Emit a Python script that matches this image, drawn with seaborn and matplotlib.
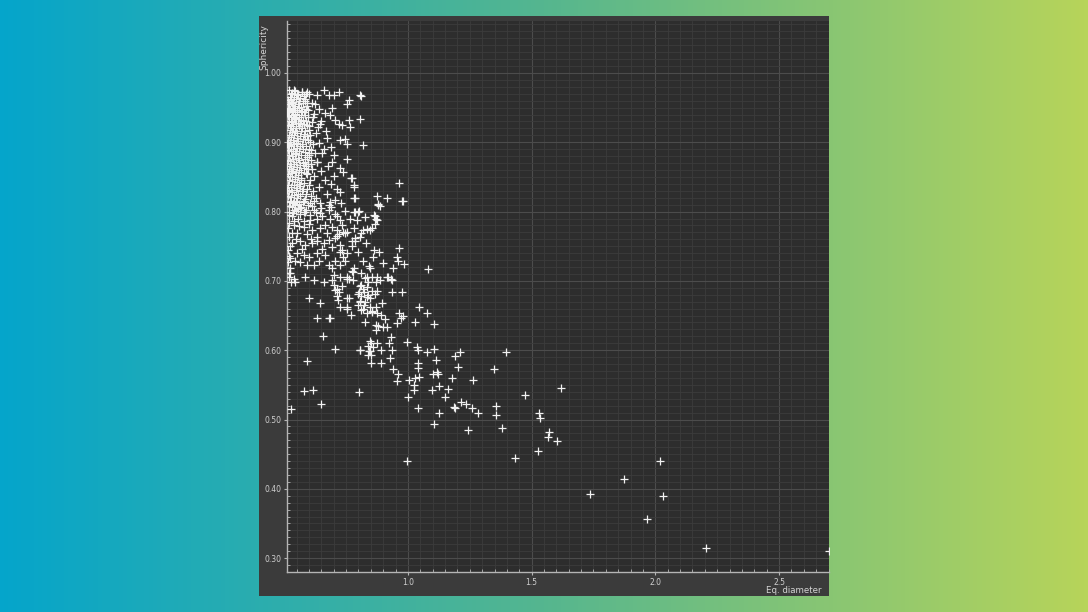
import numpy as np
import pandas as pd
import seaborn as sns
import matplotlib.pyplot as plt
from matplotlib.colors import LinearSegmentedColormap
from matplotlib.patches import Rectangle
from matplotlib.ticker import MultipleLocator, FormatStrFormatter

# %% data (Eq. diameter, Sphericity)
core = [
    (0.518, 0.975), (0.531, 0.971), (0.545, 0.974), (0.556, 0.969), (0.572, 0.973), (0.588, 0.970),
    (0.522, 0.966), (0.527, 0.970), (0.539, 0.965), (0.551, 0.968), (0.563, 0.964), (0.579, 0.967), (0.601, 0.969),
    (0.516, 0.961), (0.529, 0.963), (0.536, 0.958), (0.548, 0.962), (0.561, 0.960), (0.574, 0.957),
    (0.519, 0.955), (0.533, 0.957), (0.542, 0.953), (0.555, 0.955), (0.567, 0.951), (0.583, 0.959), (0.612, 0.956),
    (0.515, 0.950), (0.524, 0.948), (0.538, 0.950), (0.550, 0.946), (0.559, 0.949), (0.571, 0.945), (0.590, 0.952),
    (0.521, 0.943), (0.530, 0.945), (0.544, 0.941), (0.553, 0.943), (0.566, 0.940), (0.578, 0.944), (0.596, 0.946),
    (0.517, 0.938), (0.527, 0.936), (0.535, 0.939), (0.547, 0.934), (0.561, 0.937), (0.574, 0.932), (0.585, 0.939), (0.620, 0.941),
    (0.520, 0.931), (0.532, 0.929), (0.541, 0.933), (0.556, 0.928), (0.568, 0.930), (0.581, 0.926),
    (0.516, 0.925), (0.526, 0.923), (0.537, 0.926), (0.549, 0.921), (0.558, 0.924), (0.572, 0.920), (0.592, 0.925), (0.611, 0.929),
    (0.523, 0.918), (0.531, 0.915), (0.545, 0.917), (0.553, 0.913), (0.566, 0.916), (0.579, 0.912), (0.598, 0.918),
    (0.518, 0.911), (0.528, 0.908), (0.540, 0.910), (0.551, 0.906), (0.562, 0.909), (0.585, 0.905), (0.603, 0.911),
    (0.515, 0.904), (0.525, 0.901), (0.534, 0.903), (0.546, 0.899), (0.557, 0.902), (0.570, 0.898), (0.594, 0.903),
    (0.521, 0.896), (0.529, 0.894), (0.539, 0.897), (0.552, 0.892), (0.565, 0.895), (0.577, 0.891), (0.616, 0.897),
    (0.517, 0.889), (0.526, 0.887), (0.536, 0.890), (0.548, 0.885), (0.560, 0.888), (0.582, 0.886), (0.601, 0.890),
    (0.520, 0.882), (0.531, 0.880), (0.543, 0.883), (0.555, 0.878), (0.568, 0.881), (0.590, 0.879), (0.625, 0.884),
    (0.516, 0.875), (0.524, 0.873), (0.535, 0.876), (0.547, 0.871), (0.558, 0.874), (0.574, 0.870), (0.606, 0.875),
    (0.522, 0.868), (0.529, 0.866), (0.540, 0.869), (0.551, 0.864), (0.563, 0.867), (0.579, 0.863), (0.597, 0.868), (0.634, 0.871),
    (0.518, 0.861), (0.527, 0.859), (0.537, 0.862), (0.549, 0.857), (0.561, 0.860), (0.586, 0.856), (0.612, 0.862),
    (0.515, 0.854), (0.525, 0.852), (0.533, 0.855), (0.545, 0.850), (0.556, 0.853), (0.569, 0.849), (0.593, 0.854), (0.622, 0.851),
    (0.521, 0.846), (0.530, 0.844), (0.542, 0.847), (0.553, 0.842), (0.566, 0.845), (0.580, 0.841), (0.604, 0.846),
    (0.517, 0.839), (0.526, 0.836), (0.538, 0.838), (0.550, 0.834), (0.562, 0.837), (0.575, 0.833), (0.598, 0.838), (0.641, 0.836),
    (0.520, 0.830), (0.533, 0.828), (0.546, 0.831), (0.557, 0.826), (0.571, 0.829), (0.588, 0.825), (0.615, 0.830),
    (0.516, 0.823), (0.528, 0.821), (0.540, 0.824), (0.552, 0.819), (0.565, 0.822), (0.583, 0.818), (0.607, 0.823), (0.630, 0.820),
    (0.523, 0.815), (0.536, 0.813), (0.548, 0.816), (0.560, 0.811), (0.576, 0.814), (0.596, 0.810), (0.621, 0.816),
    (0.518, 0.808), (0.530, 0.806), (0.543, 0.809), (0.555, 0.804), (0.569, 0.807), (0.589, 0.803), (0.611, 0.808), (0.648, 0.805),
    (0.521, 0.800), (0.534, 0.798), (0.549, 0.801), (0.563, 0.796), (0.580, 0.799), (0.602, 0.795), (0.627, 0.800),
    (0.528, 0.958), (0.544, 0.935), (0.512, 0.944), (0.563, 0.928), (0.534, 0.921), (0.575, 0.905),
    (0.513, 0.897), (0.542, 0.884), (0.587, 0.866), (0.531, 0.858), (0.513, 0.866), (0.559, 0.840),
    (0.513, 0.831), (0.591, 0.833), (0.539, 0.816), (0.568, 0.857), (0.582, 0.876), (0.537, 0.946),
    (0.584, 0.962), (0.593, 0.957), (0.586, 0.948), (0.597, 0.936), (0.589, 0.931), (0.601, 0.924),
    (0.584, 0.917), (0.593, 0.909), (0.605, 0.901), (0.589, 0.895), (0.598, 0.884), (0.585, 0.872),
    (0.596, 0.861), (0.609, 0.868), (0.601, 0.881), (0.608, 0.889),
]

fringe = [
    (0.538, 0.975), (0.571, 0.973), (0.591, 0.972), (0.632, 0.968), (0.659, 0.975), (0.679, 0.968),
    (0.699, 0.968), (0.723, 0.973), (0.806, 0.968), (0.809, 0.967), (0.760, 0.961), (0.755, 0.955),
    (0.692, 0.949), (0.665, 0.942), (0.685, 0.939), (0.706, 0.932), (0.720, 0.927), (0.733, 0.925),
    (0.760, 0.932), (0.766, 0.922), (0.806, 0.933), (0.645, 0.927), (0.638, 0.922), (0.667, 0.917),
    (0.726, 0.903), (0.746, 0.905), (0.753, 0.898), (0.818, 0.896), (0.659, 0.891), (0.652, 0.884),
    (0.699, 0.881), (0.753, 0.876), (0.692, 0.871), (0.726, 0.863), (0.739, 0.857), (0.773, 0.848),
    (0.769, 0.848), (0.782, 0.838), (0.780, 0.836), (0.713, 0.833), (0.726, 0.828), (0.786, 0.820),
    (0.782, 0.820), (0.964, 0.841), (0.977, 0.816), (0.876, 0.822), (0.917, 0.820), (0.878, 0.811),
    (0.887, 0.808), (0.625, 0.955), (0.640, 0.948), (0.618, 0.936), (0.650, 0.931), (0.628, 0.913),
    (0.672, 0.906), (0.640, 0.899), (0.688, 0.893), (0.631, 0.872), (0.676, 0.866), (0.650, 0.858),
    (0.700, 0.851), (0.664, 0.845), (0.690, 0.840), (0.672, 0.826), (0.705, 0.817), (0.689, 0.807),
    (0.730, 0.812),
]

band = [
    (0.524, 0.814), (0.551, 0.814), (0.578, 0.815), (0.605, 0.813), (0.645, 0.812), (0.679, 0.810),
    (0.685, 0.814), (0.880, 0.810), (0.981, 0.816),
    (0.538, 0.802), (0.565, 0.805), (0.585, 0.800), (0.619, 0.802), (0.645, 0.798), (0.679, 0.802),
    (0.706, 0.797), (0.746, 0.801), (0.780, 0.800), (0.800, 0.800), (0.786, 0.800), (0.804, 0.801),
    (0.530, 0.793), (0.557, 0.790), (0.578, 0.786), (0.605, 0.788), (0.632, 0.790), (0.652, 0.793),
    (0.685, 0.790), (0.712, 0.794), (0.726, 0.788), (0.766, 0.790), (0.793, 0.788), (0.867, 0.794),
    (0.873, 0.788), (0.827, 0.792), (0.861, 0.795), (0.871, 0.789),
    (0.538, 0.781), (0.578, 0.778), (0.612, 0.773), (0.645, 0.776), (0.665, 0.781), (0.692, 0.778),
    (0.712, 0.773), (0.733, 0.781), (0.753, 0.771), (0.780, 0.776), (0.819, 0.773), (0.847, 0.773),
    (0.867, 0.782), (0.856, 0.777), (0.833, 0.775), (0.812, 0.769),
    (0.530, 0.769), (0.551, 0.769), (0.591, 0.767), (0.632, 0.764), (0.672, 0.769), (0.679, 0.759),
    (0.706, 0.762), (0.720, 0.767), (0.746, 0.769), (0.786, 0.762), (0.806, 0.764), (0.739, 0.770),
    (0.713, 0.765),
    (0.530, 0.754), (0.565, 0.757), (0.585, 0.752), (0.612, 0.754), (0.632, 0.757), (0.659, 0.754),
    (0.692, 0.749), (0.726, 0.752), (0.733, 0.744), (0.773, 0.757), (0.753, 0.740), (0.800, 0.742),
    (0.786, 0.757), (0.773, 0.751), (0.831, 0.754), (0.965, 0.748), (0.864, 0.745), (0.884, 0.741),
    (0.551, 0.740), (0.578, 0.737), (0.599, 0.735), (0.632, 0.740), (0.665, 0.737), (0.706, 0.728),
    (0.726, 0.723), (0.679, 0.723), (0.619, 0.723), (0.591, 0.723), (0.544, 0.728), (0.524, 0.733),
    (0.857, 0.734), (0.819, 0.728), (0.844, 0.721), (0.898, 0.726), (0.941, 0.718), (0.954, 0.734),
    (0.961, 0.729), (0.984, 0.725), (1.082, 0.717), (0.726, 0.742), (0.739, 0.734), (0.746, 0.728),
    (0.518, 0.795), (0.521, 0.784), (0.516, 0.776), (0.519, 0.763), (0.522, 0.751), (0.517, 0.745),
    (0.520, 0.736), (0.516, 0.727), (0.523, 0.719), (0.518, 0.712), (0.521, 0.705), (0.526, 0.698),
    (0.524, 0.711), (0.538, 0.703), (0.544, 0.699), (0.585, 0.706), (0.619, 0.701), (0.659, 0.699),
    (0.692, 0.718), (0.699, 0.708), (0.692, 0.701), (0.726, 0.706), (0.760, 0.703), (0.773, 0.715),
    (0.812, 0.712), (0.833, 0.706), (0.847, 0.718), (0.873, 0.706), (0.887, 0.701), (0.777, 0.713),
    (0.755, 0.703), (0.825, 0.704), (0.853, 0.706), (0.869, 0.699), (0.914, 0.705), (0.931, 0.703),
    (0.780, 0.718), (0.753, 0.706), (0.777, 0.702), (0.840, 0.699), (0.921, 0.706), (0.934, 0.702),
    (0.541, 0.786), (0.560, 0.779), (0.598, 0.782), (0.547, 0.761), (0.571, 0.746), (0.606, 0.761),
    (0.563, 0.727), (0.652, 0.746), (0.641, 0.729),
]

middle = [
    (0.733, 0.692), (0.812, 0.694), (0.819, 0.689), (0.833, 0.691), (0.853, 0.686), (0.866, 0.681),
    (0.873, 0.686), (0.934, 0.684), (0.974, 0.684), (0.800, 0.681), (0.840, 0.679), (0.753, 0.675),
    (0.713, 0.689), (0.723, 0.684), (0.699, 0.694), (0.706, 0.687), (0.712, 0.678), (0.719, 0.673),
    (0.598, 0.676), (0.645, 0.668), (0.760, 0.675), (0.806, 0.692), (0.812, 0.678), (0.847, 0.675),
    (0.802, 0.684), (0.823, 0.684), (0.836, 0.677), (0.806, 0.671),
    (0.806, 0.670), (0.827, 0.670), (0.800, 0.665), (0.819, 0.659), (0.847, 0.662), (0.853, 0.656),
    (0.871, 0.663), (0.896, 0.668), (0.755, 0.662), (0.769, 0.651), (0.726, 0.663), (0.823, 0.665),
    (0.811, 0.658), (0.855, 0.655), (0.755, 0.660), (0.634, 0.646), (0.681, 0.646), (0.685, 0.646),
    (0.892, 0.651), (0.907, 0.645), (0.965, 0.654), (0.971, 0.646), (0.957, 0.639), (1.046, 0.662),
    (1.078, 0.653), (1.028, 0.640), (1.105, 0.638), (0.828, 0.640), (0.871, 0.637), (0.880, 0.635),
    (0.871, 0.629), (0.898, 0.634), (0.914, 0.633), (0.833, 0.654), (0.873, 0.654), (0.981, 0.649),
    (0.655, 0.620), (0.705, 0.602), (0.806, 0.601), (0.592, 0.584),
    (0.847, 0.613), (0.876, 0.611), (0.840, 0.606), (0.860, 0.604), (0.806, 0.600), (0.847, 0.599),
    (0.892, 0.600), (0.934, 0.601), (0.924, 0.611), (0.930, 0.619), (0.995, 0.612), (1.035, 0.604),
    (1.039, 0.600), (1.075, 0.597), (1.105, 0.602), (0.852, 0.611), (0.843, 0.599), (0.852, 0.593),
    (0.840, 0.593), (0.927, 0.589), (0.850, 0.581), (0.890, 0.581),
    (1.190, 0.592), (1.212, 0.597), (1.398, 0.598), (1.112, 0.586), (1.039, 0.582), (1.039, 0.575),
    (0.941, 0.573), (0.961, 0.566), (0.954, 0.556), (1.005, 0.557), (1.028, 0.560), (1.044, 0.561),
    (1.024, 0.550), (1.025, 0.543), (1.203, 0.576), (1.348, 0.573), (1.261, 0.557), (1.176, 0.560),
    (1.102, 0.566), (1.116, 0.569), (1.122, 0.566),
    (0.578, 0.541), (0.617, 0.543), (0.650, 0.523), (0.527, 0.515), (0.804, 0.540), (1.001, 0.532),
    (1.096, 0.543), (1.125, 0.549), (1.163, 0.544), (1.149, 0.533),
]

tail = [
    (1.042, 0.516), (1.125, 0.510), (1.104, 0.493), (1.188, 0.518), (1.215, 0.525), (1.235, 0.523),
    (1.257, 0.517), (1.284, 0.510), (1.242, 0.485), (1.356, 0.519), (1.357, 0.506), (1.379, 0.488),
    (1.433, 0.444), (1.472, 0.535), (1.620, 0.546), (1.528, 0.510), (1.532, 0.502), (1.527, 0.455),
    (1.570, 0.482), (1.567, 0.475), (1.603, 0.469), (0.996, 0.440), (1.190, 0.517),
    (2.019, 0.440), (1.874, 0.414), (1.734, 0.392), (2.032, 0.390), (1.965, 0.356), (2.206, 0.315),
    (2.700, 0.311),
]

points = pd.DataFrame(core + fringe + band + middle + tail, columns=["diameter", "sphericity"])

# %% figure with gradient backdrop and dark panel
sns.set_style("dark")
plt.rcParams["font.family"] = ["DejaVu Sans"]

fig = plt.figure(figsize=(10.88, 6.12), dpi=100)
bg = fig.add_axes([0, 0, 1, 1], zorder=-2)
grad_cmap = LinearSegmentedColormap.from_list("bg", ["#05a5cb", "#55b68f", "#b7d45a"])
bg.imshow(np.linspace(0, 1, 256).reshape(1, -1), aspect="auto", cmap=grad_cmap, extent=[0, 1, 0, 1])
bg.set_axis_off()

fig.patches.append(Rectangle((259 / 1088, 16 / 612), 570 / 1088, 580 / 612,
                             transform=fig.transFigure, facecolor="#3b3b3b", edgecolor="none", zorder=-1))

ax = fig.add_axes([287 / 1088, 40 / 612, 542 / 1088, 551 / 612])
ax.set_facecolor("#2d2d2d")

sns.scatterplot(data=points, x="diameter", y="sphericity", marker="+", color="#f2f2f2",
                s=28, linewidth=0.9, ax=ax, zorder=3)

ax.set_xlim(0.511, 2.702)
ax.set_ylim(0.280, 1.075)

ax.xaxis.set_major_locator(MultipleLocator(0.5))
ax.xaxis.set_minor_locator(MultipleLocator(0.05))
ax.yaxis.set_major_locator(MultipleLocator(0.1))
ax.yaxis.set_minor_locator(MultipleLocator(0.01))
ax.xaxis.set_major_formatter(FormatStrFormatter("%.1f"))
ax.yaxis.set_major_formatter(FormatStrFormatter("%.2f"))

ax.grid(which="major", color="#4c4c4c", linewidth=0.8)
ax.grid(which="minor", color="#3c3c3c", linewidth=0.6)
ax.set_axisbelow(True)

for side in ["top", "right"]:
    ax.spines[side].set_visible(False)
for side in ["left", "bottom"]:
    ax.spines[side].set_color("#b5b5b5")
    ax.spines[side].set_linewidth(1.0)

ax.tick_params(which="major", direction="out", length=2.5, width=0.8, color="#b5b5b5",
               labelsize=5.5, labelcolor="#cfcfcf", pad=1.5, bottom=True, left=True)
ax.tick_params(which="minor", direction="in", length=2, width=0.6, color="#b5b5b5",
               bottom=True, left=True)

ax.set_xlabel("")
ax.set_ylabel("")
fig.text(264 / 1088, 1 - 47 / 612, "Sphericity", rotation=90, ha="center", va="center",
         fontsize=6.5, color="#d5d5d5")
fig.text(822 / 1088, 1 - 590.5 / 612, "Eq. diameter", ha="right", va="center",
         fontsize=6.2, color="#d5d5d5")

fig.savefig("out.png", dpi=100)
